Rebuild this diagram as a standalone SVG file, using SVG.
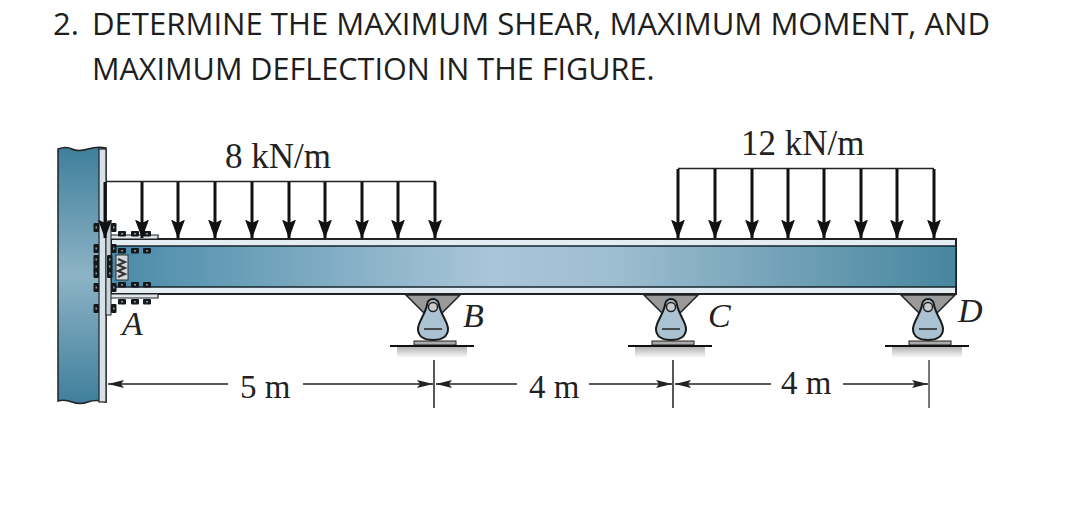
<svg xmlns="http://www.w3.org/2000/svg" width="1075" height="513" viewBox="0 0 1075 513">
<defs>
<linearGradient id="beam" x1="0" x2="1" y1="0" y2="0"><stop offset="0" stop-color="#4a8aa8"/><stop offset=".45" stop-color="#a9c6d8"/><stop offset=".6" stop-color="#9dbdd0"/><stop offset="1" stop-color="#47869f"/></linearGradient>
<linearGradient id="col" x1="0" x2="0" y1="0" y2="1"><stop offset="0" stop-color="#3f7f9b"/><stop offset=".5" stop-color="#8db3c6"/><stop offset="1" stop-color="#3f7f9b"/></linearGradient>
<linearGradient id="shad" x1="0" x2="0" y1="0" y2="1"><stop offset="0" stop-color="#999"/><stop offset="1" stop-color="#fff"/></linearGradient>
<marker id="ah" viewBox="0 0 19 14" refX="18.500" refY="7" markerUnits="userSpaceOnUse" markerWidth="19" markerHeight="14" orient="auto"><path d="M0 0L3.500 7L0 14L19 7Z" fill="#111"/></marker>
<marker id="dim" viewBox="0 0 16 8" refX="16" refY="4" markerUnits="userSpaceOnUse" markerWidth="16" markerHeight="8" orient="auto-start-reverse"><path d="M0 0L16 4L0 8L3 4Z" fill="#222"/></marker>
<g id="sup">
<rect x="-36" y="52" width="70" height="11" fill="url(#shad)" opacity=".75"/>
<path d="M-27 0H27L8 19H-8Z" fill="#9a9a9a" stroke="#222" stroke-width="1.500"/>
<rect x="-19" y="46" width="42" height="4" fill="#aaa" stroke="#222"/>
<path d="M-6 10C-8 20-15 27-15 34C-15 42-8 45 0 45C8 45 15 42 15 34C15 27 8 20 6 10A6 6 0 0 0-6 10Z" fill="#abc2d3" stroke="#1b1b1b" stroke-width="2"/>
<circle cx="0" cy="12" r="4.500" fill="#ccc" stroke="#222" stroke-width="1.500"/>
<path d="M-9 34H9" stroke="#222" stroke-width="1.500"/>
<rect x="-43" y="50" width="84" height="2" fill="#111"/>
</g>
<g id="bolth"><rect x="0" y="0" width="8" height="5.500" rx="1" fill="#15191c"/><rect x="3" y="2" width="2" height="1.500" fill="#8a9aa3"/></g>
<g id="boltv"><rect x="0" y="0" width="5.500" height="9" rx="1" fill="#15191c"/><rect x="2" y="3.500" width="1.500" height="2" fill="#8a9aa3"/></g>
</defs>
<style>
.t{font-family:"Open Sans","Noto Sans",sans-serif;font-size:31.100px;fill:#1e1e1e}
.t2{font-size:30.600px}
.l{font-family:"Liberation Serif",serif;font-size:35px;fill:#222}
.m{font-size:33px}
.i{font-style:italic;font-size:34px}
.ar{stroke:#111;stroke-width:3;marker-end:url(#ah);fill:none}
.d{stroke:#222;stroke-width:1.500;fill:none}
</style>
<rect width="1075" height="513" fill="#fff"/>
<text class="t" x="53" y="35">2.</text>
<text class="t" x="92" y="35">DETERMINE THE MAXIMUM SHEAR, MAXIMUM MOMENT, AND</text>
<text class="t t2" x="92" y="80">MAXIMUM DEFLECTION IN THE FIGURE.</text>
<g id="column">
<path d="M58 149Q66 146 72 149T88 149T106 148V402Q96 399 88 402T72 402T58 401Z" fill="url(#col)" stroke="#222" stroke-width="1.500"/>
<rect x="99" y="149" width="7" height="253" fill="#d6e2e9" stroke="#222" stroke-width="1.200"/>
</g>
<g id="beam-AD">
<rect x="111" y="239" width="845" height="55" fill="#e3edf2" stroke="#222" stroke-width="2"/>
<rect x="111" y="246" width="845" height="41" fill="url(#beam)" stroke="#16242c" stroke-width="1.500"/>
</g>
<g id="connection-A">
<path d="M110 235H158V239H111V294H158V298H110Z" fill="#dde7ed" stroke="#222" stroke-width="1.200"/>
<rect x="116" y="255" width="12" height="25" fill="#d4d8da" stroke="#333" stroke-width="1"/>
<path d="M118 259l7 3l-7 3l7 3l-7 3l7 3l-7 3" fill="none" stroke="#333" stroke-width="2"/>
<rect x="106" y="221" width="5" height="94" fill="#c9d5db" stroke="#222" stroke-width="1"/>
<use href="#boltv" x="93.500" y="223"/><use href="#boltv" x="111" y="223"/>
<use href="#boltv" x="93.500" y="244"/><use href="#boltv" x="93.500" y="255"/><use href="#boltv" x="93.500" y="262"/><use href="#boltv" x="93.500" y="269"/><use href="#boltv" x="93.500" y="283"/><use href="#boltv" x="93.500" y="304"/>
<use href="#boltv" x="111" y="244"/><use href="#boltv" x="107" y="255"/><use href="#boltv" x="107" y="262"/><use href="#boltv" x="107" y="269"/><use href="#boltv" x="111" y="283"/><use href="#boltv" x="111" y="304"/>
<use href="#bolth" x="118" y="231"/><use href="#bolth" x="131" y="231"/><use href="#bolth" x="143" y="231"/>
<use href="#bolth" x="118" y="248"/><use href="#bolth" x="131" y="248"/><use href="#bolth" x="143" y="248"/>
<use href="#bolth" x="118" y="282"/><use href="#bolth" x="131" y="282"/><use href="#bolth" x="143" y="282"/>
<use href="#bolth" x="118" y="299"/><use href="#bolth" x="131" y="299"/><use href="#bolth" x="143" y="299"/>
<text class="l i" x="122" y="335">A</text>
</g>
<g id="support-B"><use href="#sup" x="433" y="295"/><text class="l i" x="463" y="327">B</text></g>
<g id="support-C"><use href="#sup" x="671" y="295"/><text class="l i" x="708" y="327">C</text></g>
<g id="support-D"><use href="#sup" x="928" y="295"/><text class="l i" x="958" y="322">D</text></g>
<g id="load-8">
<path class="d" d="M106 181.500H436"/>
<text class="l" x="225" y="168">8 kN/m</text>
</g>
<g id="load-12">
<path class="d" d="M678 168.500H934"/>
<text class="l" x="741" y="155">12 kN/m</text>
</g>
<g id="connectors">
<path class="ar" d="M105 182V238"/><path class="ar" d="M142 182V238"/><path class="ar" d="M178 182V238"/><path class="ar" d="M215 182V238"/><path class="ar" d="M252 182V238"/><path class="ar" d="M289 182V238"/><path class="ar" d="M325 182V238"/><path class="ar" d="M362 182V238"/><path class="ar" d="M398 182V238"/><path class="ar" d="M435 182V238"/>
<path class="ar" d="M678 169V238"/><path class="ar" d="M715 169V238"/><path class="ar" d="M752 169V238"/><path class="ar" d="M788 169V238"/><path class="ar" d="M824 169V238"/><path class="ar" d="M861 169V238"/><path class="ar" d="M897 169V238"/><path class="ar" d="M934 169V238"/>
<path class="d" d="M434 360V408M673 360V408"/>
<path d="M929 360V408" stroke="#777" stroke-width="2"/>
<path class="d" marker-start="url(#dim)" d="M108 384H228"/><path class="d" marker-end="url(#dim)" d="M303 384H433"/>
<path class="d" marker-start="url(#dim)" d="M436 384H517"/><path class="d" marker-end="url(#dim)" d="M589 384H672"/>
<path class="d" marker-start="url(#dim)" d="M675 384H771"/><path class="d" marker-end="url(#dim)" d="M843 384H928"/>
</g>
<g id="dimensions">
<text class="l m" x="240" y="398">5 m</text><text class="l m" x="529" y="398">4 m</text><text class="l m" x="781" y="394">4 m</text>
</g>
</svg>
